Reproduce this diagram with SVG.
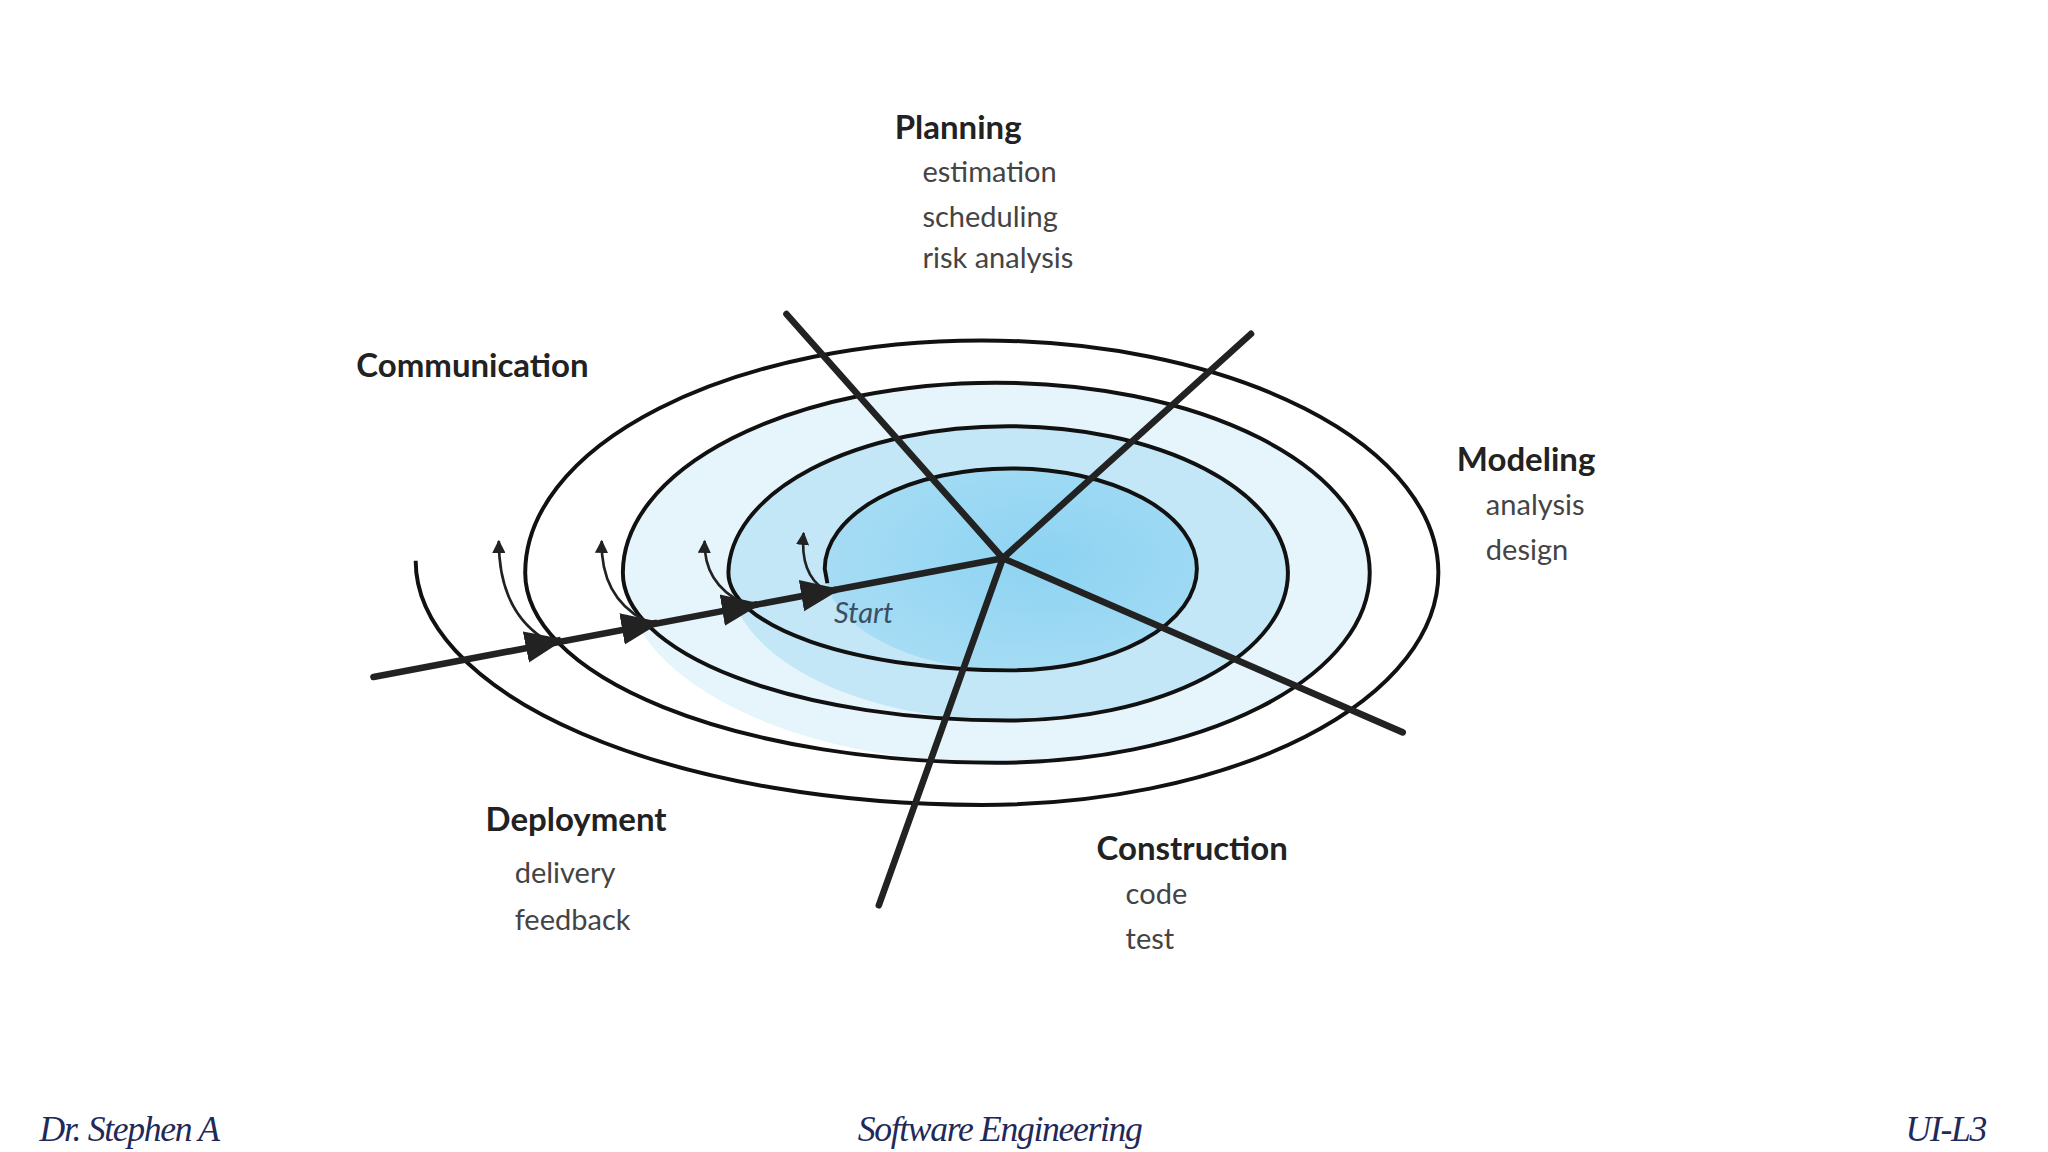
<svg xmlns="http://www.w3.org/2000/svg" width="2048" height="1152" viewBox="0 0 2048 1152">
<style>
.h{font-family:"Lato","Open Sans",sans-serif;font-weight:bold;font-size:25px;fill:#222}
.s{font-family:"Lato","Open Sans",sans-serif;font-size:22px;fill:#444}
.f{font-family:"Liberation Serif",serif;font-style:italic;font-size:27px;fill:#1f2a5a;letter-spacing:-1px}
.sp{fill:none;stroke:#111;stroke-width:3}
.k{stroke:#222;stroke-width:5;stroke-linecap:round}
.a{fill:none;stroke:#222;stroke-width:2}
</style>
<defs>
<marker id="ah" viewBox="0 0 10 10" refX="9" refY="5" markerWidth="5" markerHeight="5" orient="auto"><path d="M0,0L10,5L0,10z" fill="#222"/></marker>
<marker id="as" viewBox="0 0 10 10" refX="9" refY="5" markerWidth="6" markerHeight="6" orient="auto"><path d="M0,1L10,5L0,9z" fill="#222"/></marker>
<radialGradient id="g" cx="0.6" cy="0.45" r="0.6"><stop offset="0" stop-color="#8dd3f2"/><stop offset="1" stop-color="#a6dcf4"/></radialGradient>
</defs>
<rect width="2048" height="1152" fill="#fff"/>
<g transform="scale(1.3196)">
<g id="rings">
<ellipse cx="755" cy="434" rx="283" ry="144" fill="#e6f5fc"/>
<ellipse cx="764" cy="434" rx="212" ry="112" fill="#c3e7f7"/>
<ellipse cx="766" cy="431" rx="141" ry="77" fill="url(#g)"/>
<path class="sp" d="M315,425 A429,185 0 0 0 744,610 A346,176 0 0 0 1090,434 A346,176 0 0 0 744,258 A346,176 0 0 0 398,434 A357,144 0 0 0 755,578 A283,144 0 0 0 1038,434 A283,144 0 0 0 755,290 A283,144 0 0 0 472,434 A292,112 0 0 0 764,546 A212,112 0 0 0 976,434 A212,112 0 0 0 764,323 A212,112 0 0 0 552,434 A214,74 0 0 0 766,508 A141,77 0 0 0 907,431 A141,76 0 0 0 766,355 A141,76 0 0 0 625,431 L627,442"/>
</g>
<g id="connectors">
<line class="k" x1="760" y1="423" x2="596" y2="238"/>
<line class="k" x1="760" y1="423" x2="948" y2="253"/>
<line class="k" x1="760" y1="423" x2="1063" y2="555"/>
<line class="k" x1="760" y1="423" x2="666" y2="686"/>
<line class="k" x1="760" y1="423" x2="283" y2="513"/>
<path d="M400,490 L425,485" stroke="#222" stroke-width="5" marker-end="url(#as)"/>
<path d="M475,476 L498,472" stroke="#222" stroke-width="5" marker-end="url(#as)"/>
<path d="M550,462 L574,458" stroke="#222" stroke-width="5" marker-end="url(#as)"/>
<path d="M610,451 L634,447" stroke="#222" stroke-width="5" marker-end="url(#as)"/>
<path class="a" d="M412,484 Q378,462 378,410" marker-end="url(#ah)"/>
<path class="a" d="M488,470 Q455,452 456,410" marker-end="url(#ah)"/>
<path class="a" d="M563,457 Q533,442 534,410" marker-end="url(#ah)"/>
<path class="a" d="M625,447 Q606,435 609,404" marker-end="url(#ah)"/>
</g>
<g id="planning"><text class="h" x="678" y="105">Planning</text><text class="s" x="699" y="138">estimation</text><text class="s" x="699" y="172">scheduling</text><text class="s" x="699" y="203">risk analysis</text></g>
<g id="communication"><text class="h" x="270" y="286">Communication</text></g>
<g id="modeling"><text class="h" x="1104" y="357">Modeling</text><text class="s" x="1126" y="390">analysis</text><text class="s" x="1126" y="424">design</text></g>
<g id="deployment"><text class="h" x="368" y="630">Deployment</text><text class="s" x="390" y="669">delivery</text><text class="s" x="390" y="705">feedback</text></g>
<g id="construction"><text class="h" x="831" y="652">Construction</text><text class="s" x="853" y="685">code</text><text class="s" x="853" y="719">test</text></g>
<text x="632" y="472" font-family="Lato,sans-serif" font-style="italic" font-size="22" fill="#3a4f63">Start</text>
<text class="f" x="30" y="865">Dr. Stephen A</text>
<text class="f" x="650" y="865">Software Engineering</text>
<text class="f" x="1444" y="865">UI-L3</text>
</g>
</svg>
